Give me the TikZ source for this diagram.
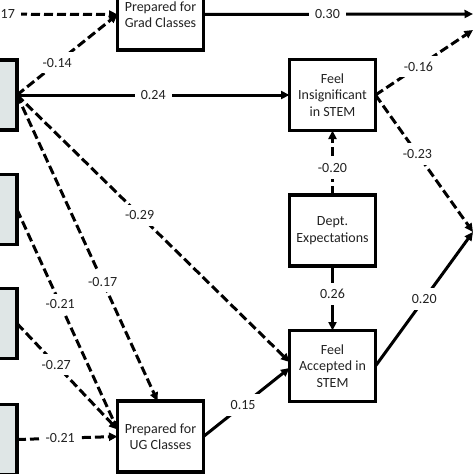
\documentclass[tikz,border=0pt]{standalone}
\usepackage{fontspec}
\setmainfont{Carlito}
\usetikzlibrary{arrows.meta}
\definecolor{leftfill}{HTML}{DFE6E6}
\definecolor{txt}{HTML}{222222}
\tikzset{
  every node/.style={font=\fontsize{14pt}{16.5pt}\selectfont, text=txt},
  mainbox/.style={draw=black, line width=3.6pt, fill=white, minimum width=86pt, minimum height=71pt, align=center, outer sep=0pt, inner sep=2pt},
  leftbox/.style={draw=black, line width=3.6pt, fill=leftfill, minimum width=80pt, minimum height=70pt, outer sep=0pt},
  conn/.style={line width=3pt, -{Triangle[length=8.5pt,width=8pt]}},
  dconn/.style={conn, dash pattern=on 9pt off 4pt},
  lab/.style={fill=white, inner xsep=6pt, inner ysep=6pt}
}
\begin{document}
\begin{tikzpicture}[x=1pt,y=-1pt]
\fill[white] (0,0) rectangle (474,474);
\useasboundingbox (0,0) rectangle (474,474);
% left boxes
\node[leftbox] (L1) at (-23,95) {};
\node[leftbox] (L2) at (-23,209.5) {};
\node[leftbox] (L3) at (-23,323.5) {};
\node[leftbox] (L4) at (-23,439.5) {};
% main boxes
\node[mainbox] (G) at (160.5,14.5) {Prepared for\\Grad Classes};
\node[mainbox] (I) at (332.5,95) {Feel\\Insignificant\\in STEM};
\node[mainbox] (D) at (332.5,230.5) {Dept.\\Expectations};
\node[mainbox] (A) at (332.5,366) {Feel\\Accepted in\\STEM};
\node[mainbox] (U) at (160.5,436.5) {Prepared for\\UG Classes};
% off-picture ends
\coordinate (TL) at (-60,14);
\coordinate (R1a) at (473,14);
\coordinate (R1b) at (473,30);
\coordinate (R2) at (473,232);
% connectors
\draw[dconn] (TL) -- node[lab,pos=0.34]{-0.17} (G.west);
\draw[dconn] (L1.east) -- node[lab,pos=0.4]{-0.14} (G.west);
\draw[conn] (L1.east) -- node[lab,pos=0.5]{0.24} (I.west);
\draw[dconn] (L1.east) -- node[lab,pos=0.45]{-0.29} ([yshift=4pt]A.west);
\draw[dconn] (L1.east) -- node[lab,pos=0.61]{-0.17} ([xshift=-3pt]U.north);
\draw[dconn] (L2.east) -- node[lab,pos=0.43]{-0.21} ([yshift=7pt]U.west);
\draw[dconn] (L3.east) -- node[lab,pos=0.39]{-0.27} ([yshift=7pt]U.west);
\draw[dconn] (L4.east) -- node[lab,pos=0.43]{-0.21} (U.west);
\draw[conn] (G.east) -- node[lab,pos=0.46]{0.30} (R1a);
\draw[dconn] (I.east) -- node[lab,pos=0.44]{-0.16} (R1b);
\draw[dconn] (I.east) -- node[lab,pos=0.43]{-0.23} (R2);
\draw[dconn] (D.north) -- node[lab,pos=0.42]{-0.20} (I.south);
\draw[conn] (D.south) -- node[lab,pos=0.43]{0.26} (A.north);
\draw[conn] (A.east) -- node[lab,pos=0.5]{0.20} (R2);
\draw[conn] (U.east) -- node[lab,pos=0.46]{0.15} ([yshift=-2pt]A.west);
\end{tikzpicture}
\end{document}
